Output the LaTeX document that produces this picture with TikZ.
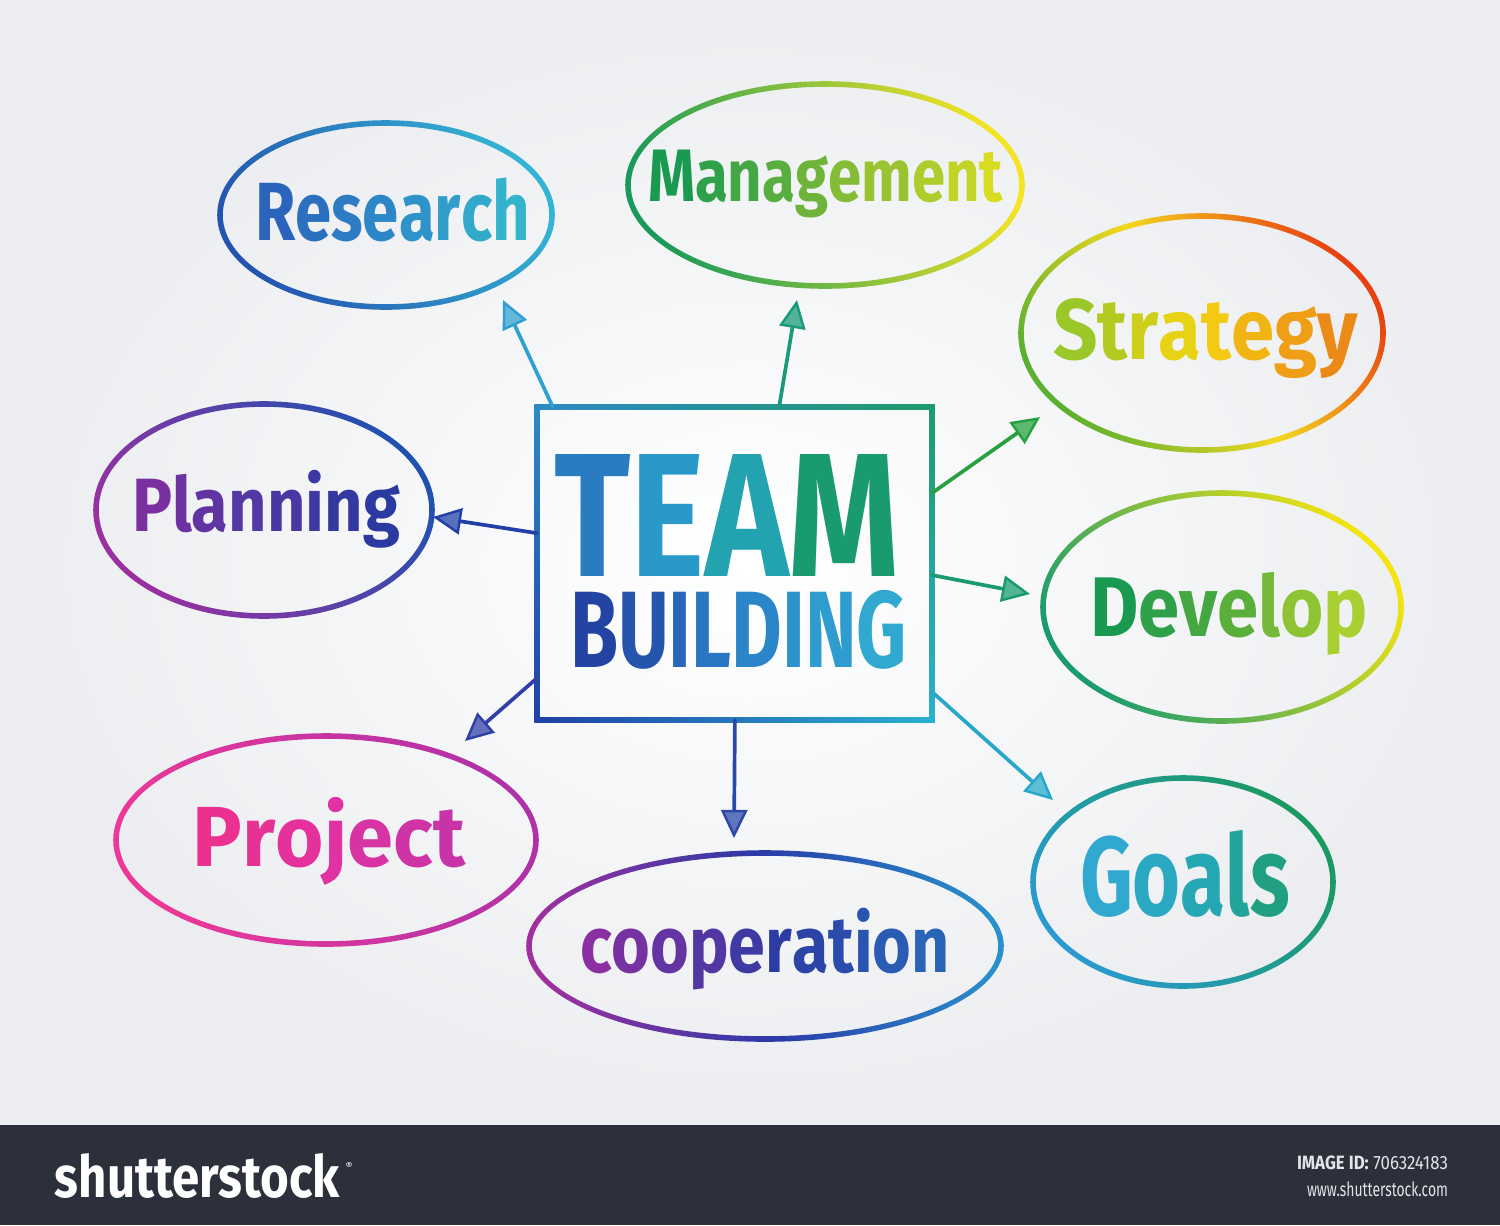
\documentclass[tikz,border=0pt]{standalone}
\usepackage{fontspec}
\setmainfont{Fira Sans}
\usepackage{graphicx}
\usetikzlibrary{arrows.meta,calc}
\newlength\pxu \setlength\pxu{0.02cm}
\definecolor{bgedge}{HTML}{EBEDF0}
\definecolor{barcol}{HTML}{2B303B}
\definecolor{bartxt}{HTML}{E2E4E8}
% ring colours
\definecolor{rsA}{HTML}{2454B0}\definecolor{rsB}{HTML}{34B4D4}
\definecolor{mgA}{HTML}{1A9A5A}\definecolor{mgB}{HTML}{F4E424}
\definecolor{stA}{HTML}{5CB030}\definecolor{stB}{HTML}{F4D820}\definecolor{stC}{HTML}{E84010}
\definecolor{plA}{HTML}{9A30A0}\definecolor{plB}{HTML}{2050B0}
\definecolor{dvA}{HTML}{1A9A70}\definecolor{dvB}{HTML}{F4E410}
\definecolor{prA}{HTML}{EC3898}\definecolor{prB}{HTML}{B032A8}
\definecolor{coA}{HTML}{A0309E}\definecolor{coM}{HTML}{2A3AA8}\definecolor{coB}{HTML}{2A90CC}
\definecolor{goA}{HTML}{2A9AD0}\definecolor{goB}{HTML}{1A9A60}
% text colours
\definecolor{tRa}{HTML}{2A64BC}\definecolor{tRb}{HTML}{2E8CC8}\definecolor{tRc}{HTML}{34B4CC}
\definecolor{tMa}{HTML}{1A9A50}\definecolor{tMb}{HTML}{7AB838}\definecolor{tMc}{HTML}{D8DC20}
\definecolor{tSa}{HTML}{9AC828}\definecolor{tSb}{HTML}{F4D410}\definecolor{tSc}{HTML}{EC8A18}
\definecolor{tPa}{HTML}{7A30A0}\definecolor{tPb}{HTML}{4C38A4}\definecolor{tPc}{HTML}{2A3AA0}
\definecolor{tDa}{HTML}{1A9A50}\definecolor{tDb}{HTML}{5AAE3A}\definecolor{tDc}{HTML}{A8D030}
\definecolor{tJa}{HTML}{EC3090}\definecolor{tJb}{HTML}{E032A0}\definecolor{tJc}{HTML}{C834A8}
\definecolor{tCa}{HTML}{8A30A0}\definecolor{tCb}{HTML}{2C3CA4}\definecolor{tCc}{HTML}{2A64B8}
\definecolor{tGa}{HTML}{30A8D0}\definecolor{tGb}{HTML}{26A8B4}\definecolor{tGc}{HTML}{20A080}
\definecolor{tTa}{HTML}{2A7CC0}\definecolor{tTb}{HTML}{28A8D0}\definecolor{tTc}{HTML}{1A9A70}
\definecolor{tBa}{HTML}{2444A4}\definecolor{tBb}{HTML}{2A80C8}\definecolor{tBc}{HTML}{30A8D0}
% box edges
\definecolor{bxTL}{HTML}{2D8AC4}\definecolor{bxTR}{HTML}{1F9A6A}
\definecolor{bxBL}{HTML}{2040A8}\definecolor{bxBR}{HTML}{2AB0D0}
% arrows
\definecolor{arR}{HTML}{30A0D0}\definecolor{arM}{HTML}{1A9A78}\definecolor{arS}{HTML}{28A040}
\definecolor{arD}{HTML}{1A9A70}\definecolor{arG}{HTML}{28A8C8}\definecolor{arC}{HTML}{2A48A8}
\definecolor{arJ}{HTML}{3040A8}\definecolor{arP}{HTML}{2040A8}
\makeatletter
\newcount\gt@n \newcount\gt@i
\def\gt@end{\gt@end}
\def\gt@count#1{\ifx#1\gt@end\else\advance\gt@n by 1 \expandafter\gt@count\fi}
\def\gt@loop#1{\ifx#1\gt@end\else
  \pgfmathsetmacro\gt@p{\the\gt@n>1 ? 200*\the\gt@i/(\the\gt@n-1) : 0}%
  \ifdim\gt@p pt<100pt
    \pgfmathtruncatemacro\gt@t{\gt@p}\colorlet{gtc}{\gt@B!\gt@t!\gt@A}%
  \else
    \pgfmathtruncatemacro\gt@t{\gt@p-100}\colorlet{gtc}{\gt@C!\gt@t!\gt@B}%
  \fi
  \textcolor{gtc}{#1}\advance\gt@i by 1
  \expandafter\gt@loop\fi}
\newcommand\gradtext[4]{\begingroup\gt@n=0 \gt@count#4\gt@end
  \gt@i=0 \def\gt@A{#1}\def\gt@B{#2}\def\gt@C{#3}\gt@loop#4\gt@end\endgroup}
\makeatother
\newcommand\lbl[6]{\resizebox*{#1\pxu}{#2\pxu}{\fontsize{40}{40}\selectfont\bfseries\gradtext{#3}{#4}{#5}{#6}}}
\newcommand\ring[5]{\shade[even odd rule,#5] (#1,#2) ellipse [x radius=#3+2.8, y radius=#4+2.8] (#1,#2) ellipse [x radius=#3-2.8, y radius=#4-2.8];}
\tikzset{
  conn/.style={draw=#1, line width=2.1pt, line cap=round,
    -{Triangle[length=16pt,width=15pt,line width=1.4pt,fill=#1!75!white]}},
  lab/.style={inner sep=0pt, outer sep=0pt}
}
\begin{document}
\begin{tikzpicture}[x=0.02cm,y=-0.02cm]
\useasboundingbox (0,0) rectangle (1500,1225);
% background
\shade[inner color=white, outer color=bgedge] (0,0) rectangle (1500,1125);
\fill[barcol] (0,1125) rectangle (1500,1225);
% central box
\node[lab, minimum width=7.9cm, minimum height=6.26cm] (box) at (734.5,563.5) {};
\shade[left color=bxTL, right color=bxTR] (534.5,404.5) rectangle (934.5,409.5);
\shade[top color=bxTR, bottom color=bxBR] (929.5,404.5) rectangle (934.5,722.5);
\shade[left color=bxBL, right color=bxBR] (534.5,717.5) rectangle (934.5,722.5);
\shade[top color=bxTL, bottom color=bxBL] (534.5,404.5) rectangle (539.5,722.5);
\node[lab] (team) at (727,515) {\lbl{345}{122}{tTa}{tTb}{tTc}{TEAM}};
\node[lab] (building) at (738.5,630) {\lbl{337}{79}{tBa}{tBb}{tBc}{BUILDING}};
% rings
\ring{386}{215}{166}{92}{left color=rsA, right color=rsB, shading angle=120}
\ring{825}{185}{197}{101}{left color=mgA, right color=mgB, shading angle=110}
\ring{1202}{333}{181}{117}{left color=stA, right color=stC, middle color=stB, shading angle=125}
\ring{264}{510}{168}{106}{left color=plA, right color=plB, shading angle=125}
\ring{1222}{607}{179}{114}{left color=dvA, right color=dvB, shading angle=125}
\ring{326}{840}{210}{104}{left color=prA, right color=prB, shading angle=110}
\ring{765}{946}{236}{93}{left color=coA, right color=coB, middle color=coM, shading angle=95}
\ring{1183}{882}{150}{104}{left color=goA, right color=goB, shading angle=130}
% labels
\node[lab] (research) at (392.5,210) {\lbl{275}{64}{tRa}{tRb}{tRc}{Research}};
\node[lab] (management) at (825.5,184) {\lbl{355}{68}{tMa}{tMb}{tMc}{Management}};
\node[lab] (strategy) at (1205.5,339) {\lbl{305}{80}{tSa}{tSb}{tSc}{Strategy}};
\node[lab] (planning) at (266,509) {\lbl{268}{78}{tPa}{tPb}{tPc}{Planning}};
\node[lab] (develop) at (1229,613.5) {\lbl{278}{83}{tDa}{tDb}{tDc}{Develop}};
\node[lab] (project) at (329,841) {\lbl{272}{88}{tJa}{tJb}{tJc}{Project}};
\node[lab] (cooperation) at (765,949) {\lbl{370}{82}{tCa}{tCb}{tCc}{cooperation}};
\node[lab] (goals) at (1185,873.5) {\lbl{210}{87}{tGa}{tGb}{tGc}{Goals}};
% arrow end points
\coordinate (sR) at ($(box.north west)!0.04!(box.north east)$);
\coordinate (sM) at ($(box.north west)!0.613!(box.north east)$);
\coordinate (sS) at ($(box.north east)!0.275!(box.south east)$);
\coordinate (sD) at ($(box.north east)!0.537!(box.south east)$);
\coordinate (sG) at ($(box.north east)!0.91!(box.south east)$);
\coordinate (sC) at ($(box.south west)!0.501!(box.south east)$);
\coordinate (sJ) at ($(box.north west)!0.866!(box.south west)$);
\coordinate (sP) at ($(box.north west)!0.403!(box.south west)$);
\coordinate (eR) at (503,300);
\coordinate (eM) at (797,300);
\coordinate (eS) at (1040,417);
\coordinate (eD) at (1030,594);
\coordinate (eG) at (1053,800);
\coordinate (eC) at (734,838);
\coordinate (eJ) at (465,741);
\coordinate (eP) at (433,517);
\draw[conn=arR] (sR) -- (eR);
\draw[conn=arM] (sM) -- (eM);
\draw[conn=arS] (sS) -- (eS);
\draw[conn=arD] (sD) -- (eD);
\draw[conn=arG] (sG) -- (eG);
\draw[conn=arC] (sC) -- (eC);
\draw[conn=arJ] (sJ) -- (eJ);
\draw[conn=arP] (sP) -- (eP);
% footer
\node[lab, text=white] (logo) at (197.5,1175.5) {\resizebox*{285\pxu}{45\pxu}{\bfseries shutterstock}};
\node[lab, text=white] (reg) at (349,1166) {\resizebox*{7\pxu}{7\pxu}{®}};
\node[lab, text=bartxt] (imgid) at (1372.5,1163) {\resizebox*{151\pxu}{14\pxu}{\bfseries IMAGE ID:\mdseries\ 706324183}};
\node[lab, text=bartxt] (www) at (1377.5,1189) {\resizebox*{141\pxu}{15\pxu}{www.shutterstock.com}};
\end{tikzpicture}
\end{document}
